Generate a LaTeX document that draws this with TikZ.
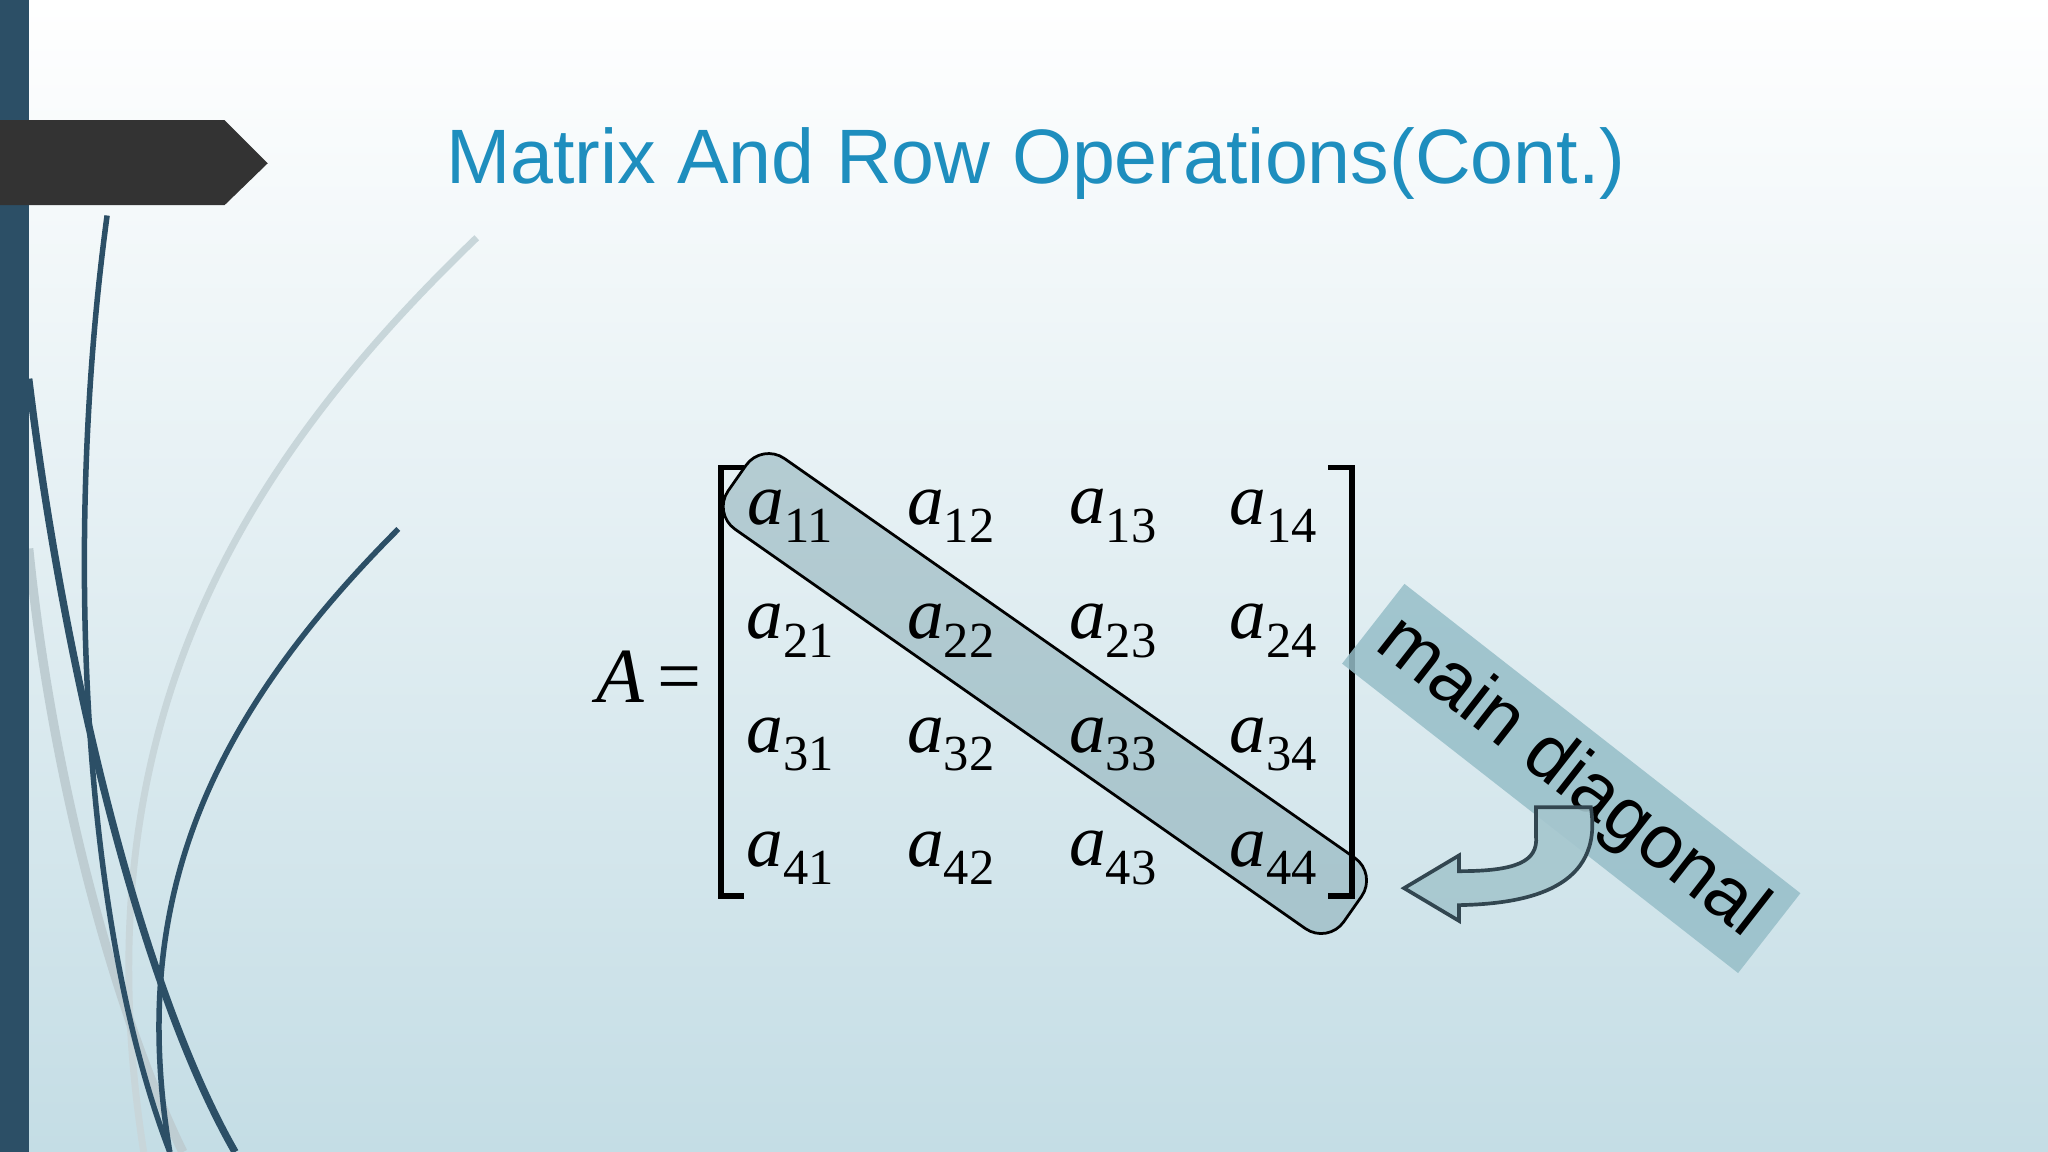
\documentclass[tikz,border=0pt]{standalone}
\usepackage{fontspec}
\setmainfont{Liberation Serif}
\newfontfamily\sans{Liberation Sans}
\definecolor{bgbot}{RGB}{196,221,229}
\definecolor{cA}{RGB}{200,214,218}
\definecolor{cB}{RGB}{190,205,210}
\definecolor{navy}{RGB}{44,79,102}
\definecolor{tab}{RGB}{51,51,51}
\definecolor{ttl}{RGB}{30,142,190}
\definecolor{diagf}{RGB}{120,160,170}
\definecolor{lblf}{RGB}{150,190,200}
\definecolor{arrf}{RGB}{165,198,206}
\definecolor{arrd}{RGB}{50,70,80}
\newcommand{\ael}[1]{{\fontsize{16}{16}\selectfont\itshape a}\raisebox{-4pt}{\fontsize{11}{11}\selectfont #1}}
\begin{document}
\begin{tikzpicture}[x=0.01cm,y=-0.01cm,
  ent/.style={anchor=center, inner sep=0pt},
  curveline/.style={line width=1.2pt, draw=#1}]
\useasboundingbox (0,0) rectangle (1568,882);
\shade[top color=white, bottom color=bgbot] (0,0) rectangle (1568,882);
\draw[curveline=cA, line width=1.5pt] (365,182) .. controls (180,360) and (60,560) .. (110,882);
\draw[curveline=cB, line width=2pt] (22,420) .. controls (40,600) and (90,780) .. (140,882);
\draw[curveline=navy] (82,165) .. controls (50,400) and (60,700) .. (130,882);
\draw[curveline=navy, line width=1.6pt] (22,290) .. controls (50,520) and (110,760) .. (180,882);
\draw[curveline=navy] (305,405) .. controls (150,560) and (100,700) .. (130,882);
\fill[navy] (0,0) rectangle (22,882);
\fill[tab] (0,92) -- (172,92) -- (205,125) -- (172,157) -- (0,157) -- cycle;
\node[font=\sans\fontsize{16.8}{17}\selectfont, text=ttl, anchor=center] (title) at (793,125) {Matrix And Row Operations(Cont.)};
\node[draw=black, line width=0.6pt, rounded corners=6pt, fill=diagf, fill opacity=0.45, inner sep=0pt,
  minimum height=0.66cm, minimum width=5.75cm, rotate=-35] (diag) at (800,531) {};
\draw[line width=1.2pt] (570,358) -- (552,358) -- (552,686) -- (570,686);
\draw[line width=1.2pt] (1017,358) -- (1035,358) -- (1035,686) -- (1017,686);
\node[ent, font=\fontsize{17}{17}\selectfont] (A) at (497,518) {\textit{A}\,=};
\foreach \r/\y in {1/395,2/483,3/570,4/657}{
  \foreach \c/\x in {1/605,2/728,3/852,4/975}{
    \node[ent] (a\r\c) at (\x,\y) {\ael{\r\c}};
  }}
\node[fill=lblf, fill opacity=0.85, text opacity=1, rotate=-38, minimum width=3.65cm, minimum height=0.7cm,
  font=\sans\fontsize{16.5}{17}\selectfont] (lbl) at (1203,596) {main diagonal};
\draw[fill=arrf, fill opacity=0.9, draw=arrd, line width=0.8pt]
  (1176,618) -- (1218,618) .. controls (1228,680) and (1170,692) .. (1117,693)
  -- (1117,705) -- (1075,680) -- (1117,655) -- (1117,667)
  .. controls (1160,667) and (1178,660) .. (1176,640) -- cycle;
\end{tikzpicture}
\end{document}
